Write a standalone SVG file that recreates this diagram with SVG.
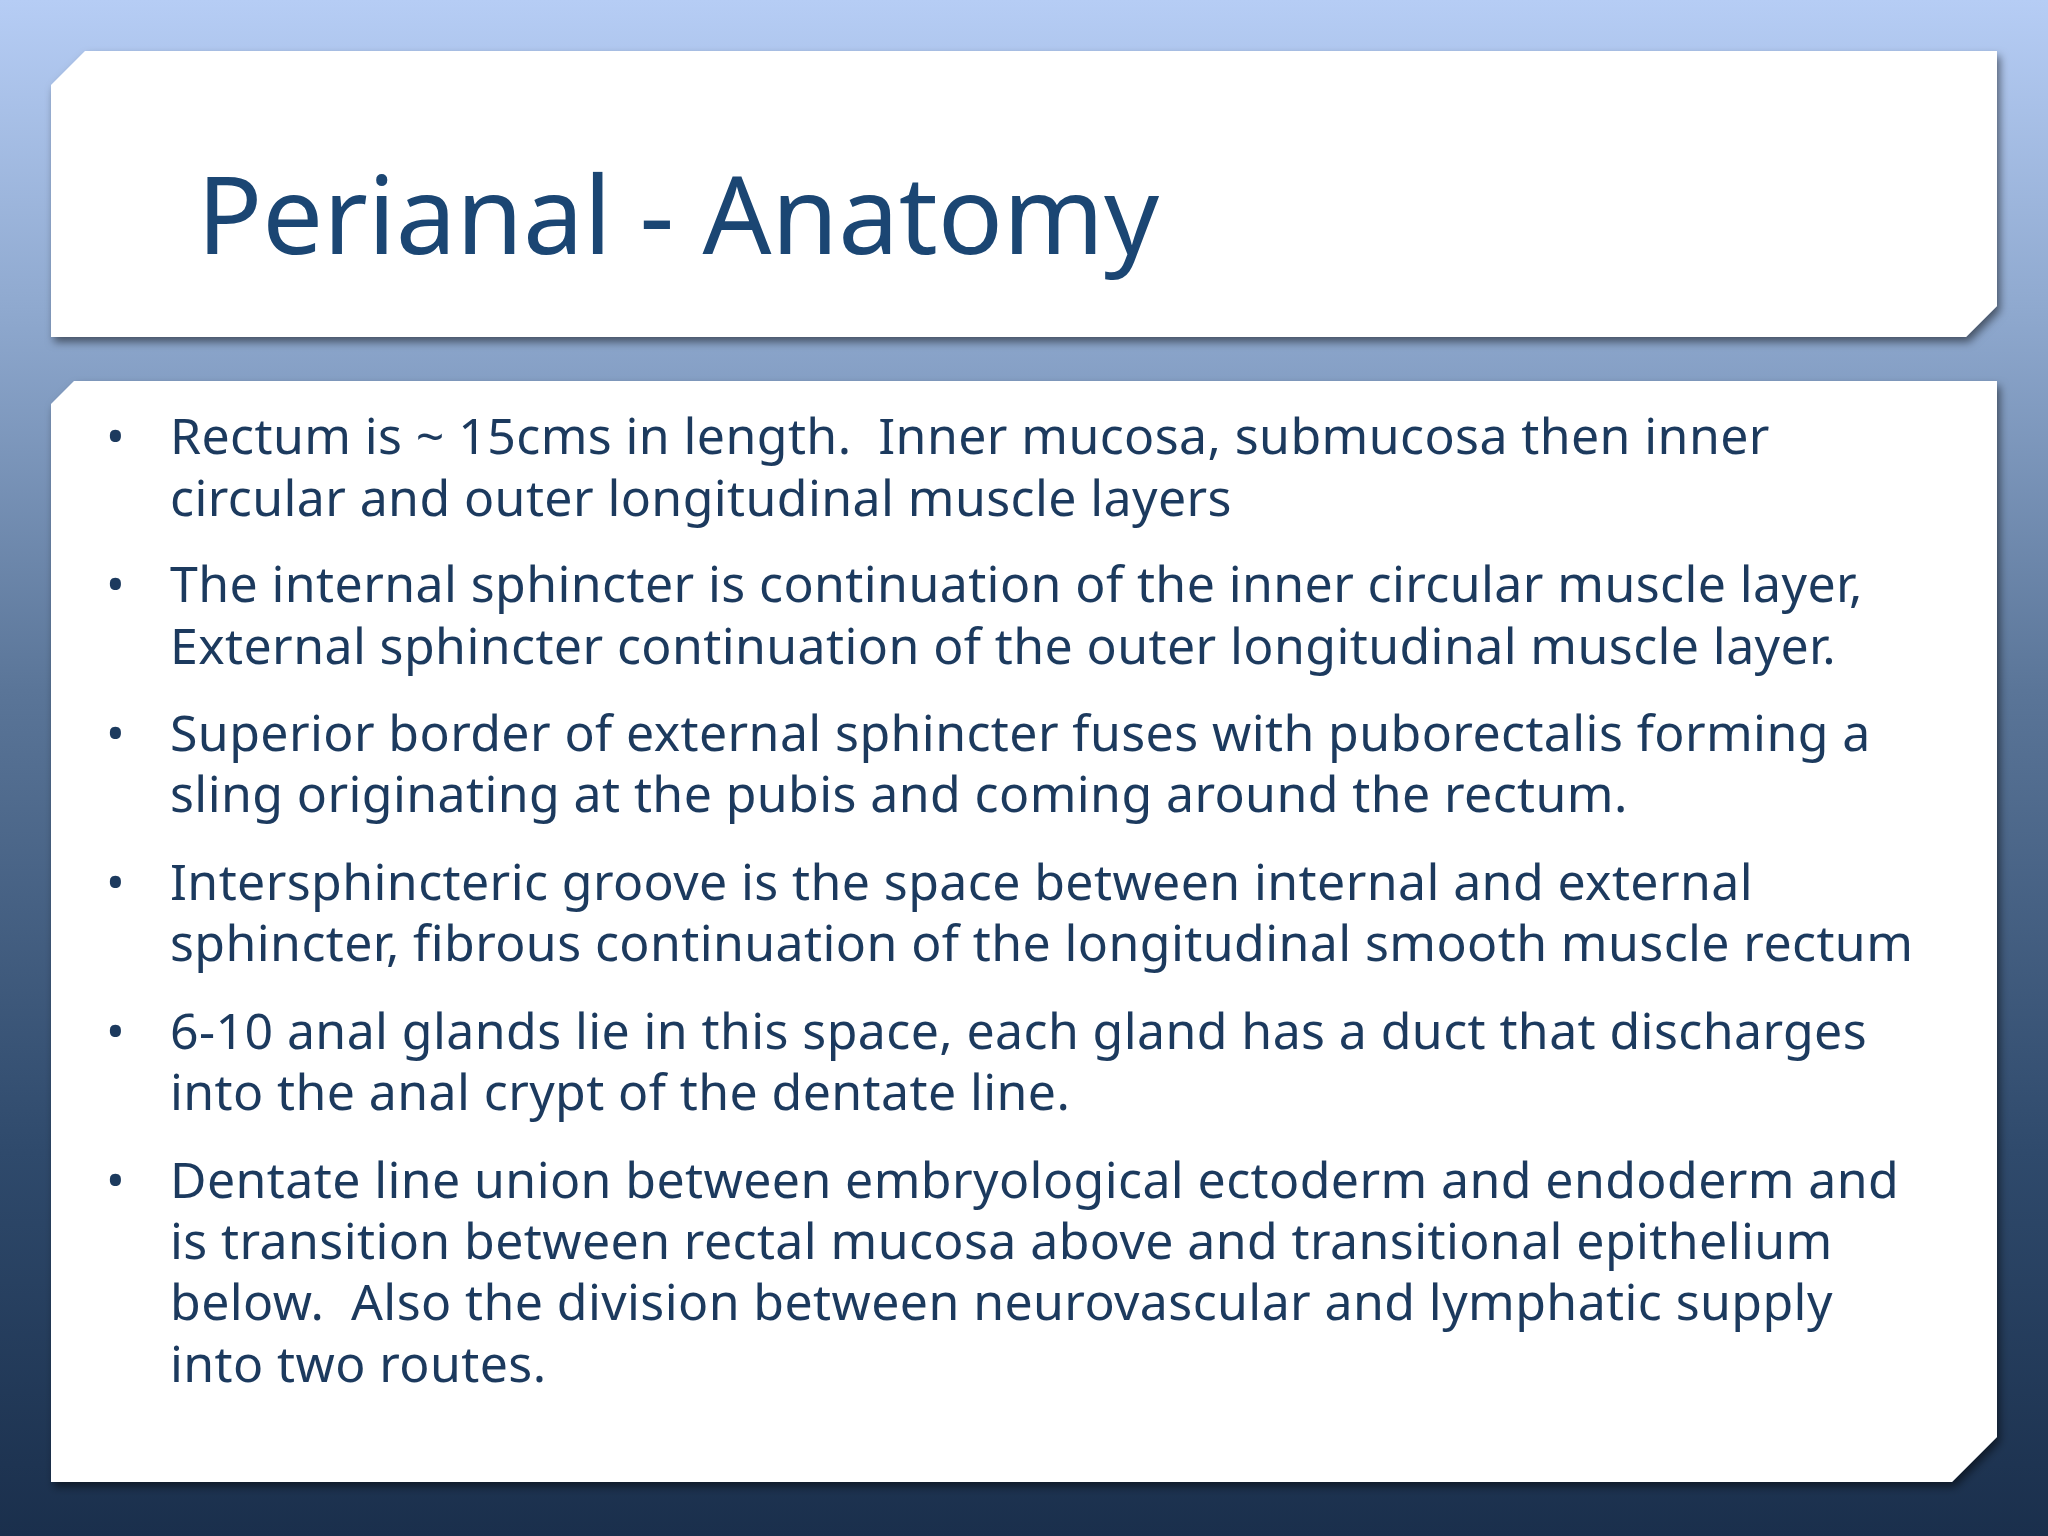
<svg xmlns="http://www.w3.org/2000/svg" width="2048" height="1536" viewBox="0 0 2048 1536">
<defs>
<linearGradient id="bg" x1="0" y1="0" x2="0" y2="1">
<stop offset="0" stop-color="#b6cdf5"/>
<stop offset="0.2" stop-color="#8fa9cf"/>
<stop offset="0.45" stop-color="#5a7598"/>
<stop offset="0.75" stop-color="#2f4a6c"/>
<stop offset="1" stop-color="#1a2f4c"/>
</linearGradient>
<filter id="sh" x="-5%" y="-5%" width="110%" height="115%"><feDropShadow dx="3" dy="5" stdDeviation="4" flood-color="#000" flood-opacity="0.5"/></filter>
<style>
.t{font-family:"Noto Sans","Open Sans","Liberation Sans",sans-serif;fill:#1c3a5e;font-size:50px;letter-spacing:0.4px;white-space:pre}
.h{font-family:"Noto Sans","Open Sans","Liberation Sans",sans-serif;fill:#1b4673;font-size:108px}
</style>
</defs>
<rect width="2048" height="1536" fill="url(#bg)"/>
<g id="title">
<polygon points="85,51 1997,51 1997,306 1966,337 51,337 51,85" fill="#fff" filter="url(#sh)"/>
<text class="h" x="197" y="254">Perianal - Anatomy</text>
</g>
<g id="content">
<polygon points="74,381 1997,381 1997,1437 1952,1482 51,1482 51,404" fill="#fff" filter="url(#sh)"/>
<g class="t">
<text x="106" y="454">•</text><text x="170" y="454" xml:space="preserve">Rectum is ~ 15cms in length.  Inner mucosa, submucosa then inner</text>
<text x="170" y="516">circular and outer longitudinal muscle layers</text>
<text x="106" y="602">•</text><text x="170" y="602">The internal sphincter is continuation of the inner circular muscle layer,</text>
<text x="170" y="664">External sphincter continuation of the outer longitudinal muscle layer.</text>
<text x="106" y="751">•</text><text x="170" y="751">Superior border of external sphincter fuses with puborectalis forming a</text>
<text x="170" y="812">sling originating at the pubis and coming around the rectum.</text>
<text x="106" y="900">•</text><text x="170" y="900">Intersphincteric groove is the space between internal and external</text>
<text x="170" y="961">sphincter, fibrous continuation of the longitudinal smooth muscle rectum</text>
<text x="106" y="1049">•</text><text x="170" y="1049">6-10 anal glands lie in this space, each gland has a duct that discharges</text>
<text x="170" y="1110">into the anal crypt of the dentate line.</text>
<text x="106" y="1198">•</text><text x="170" y="1198">Dentate line union between embryological ectoderm and endoderm and</text>
<text x="170" y="1259">is transition between rectal mucosa above and transitional epithelium</text>
<text x="170" y="1320" xml:space="preserve">below.  Also the division between neurovascular and lymphatic supply</text>
<text x="170" y="1382">into two routes.</text>
</g>
</g>
</svg>
